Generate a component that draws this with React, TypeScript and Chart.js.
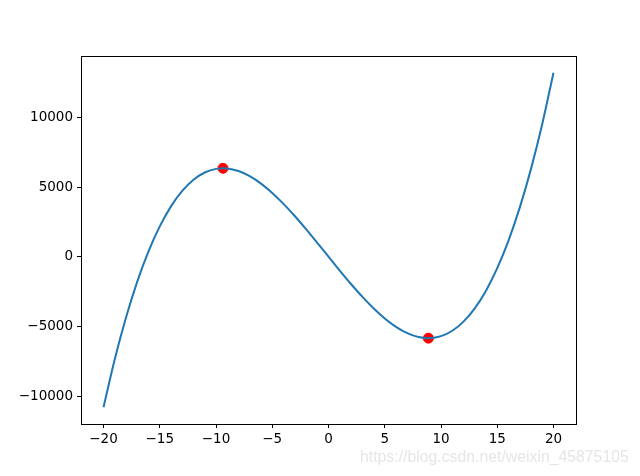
import React, { useEffect, useRef } from "react";
import { Chart, registerables } from "chart.js";

Chart.register(...registerables);

const xValues = [-20, -19, -18, -17, -16, -15, -14, -13, -12, -11, -10, -9, -8, -7, -6, -5, -4, -3, -2, -1, 0, 1, 2, 3, 4, 5, 6, 7, 8, 9, 10, 11, 12, 13, 14, 15, 16, 17, 18, 19, 20];
const yValues = [-10800, -7353, -4356, -1785, 384, 2175, 3612, 4719, 5520, 6039, 6300, 6327, 6144, 5775, 5244, 4575, 3792, 2919, 1980, 999, 0, -993, -1956, -2865, -3696, -4425, -5028, -5481, -5760, -5841, -5700, -5313, -4656, -3705, -2436, -825, 1152, 3519, 6300, 9519, 13200];
const extremaX = [-9.38, 8.88];
const extremaY = [6343, -5842];
const xTicks = [-20, -15, -10, -5, 0, 5, 10, 15, 20];
const yTicks = [-10000, -5000, 0, 5000, 10000];

const fmt = (v: number) => (v < 0 ? "\u2212" + Math.abs(v) : String(v));

export default function App() {
  const ref = useRef<HTMLCanvasElement>(null);
  useEffect(() => {
    const framePlugin = {
      id: "frame",
      afterDraw(chart: any) {
        const { ctx, chartArea } = chart;
        ctx.save();
        ctx.strokeStyle = "#000";
        ctx.lineWidth = 1;
        ctx.strokeRect(
          Math.round(chartArea.left) + 0.5,
          Math.round(chartArea.top) + 0.5,
          Math.round(chartArea.right - chartArea.left),
          Math.round(chartArea.bottom - chartArea.top)
        );
        ctx.restore();
      },
    };
    const tickFont = { family: "'DejaVu Sans'", size: 13.5 };
    const chart = new Chart(ref.current!, {
      type: "line",
      data: {
        datasets: [
          {
            type: "line",
            data: xValues.map((x, i) => ({ x, y: yValues[i] })),
            borderColor: "#1f77b4",
            borderWidth: 2,
            pointRadius: 0,
            tension: 0.3,
            fill: false,
            order: 0,
          },
          {
            type: "scatter",
            data: extremaX.map((x, i) => ({ x, y: extremaY[i] })),
            backgroundColor: "#ff0000",
            borderColor: "#ff0000",
            pointRadius: 5,
            order: 1,
          } as any,
        ],
      },
      options: {
        animation: false,
        responsive: false,
        maintainAspectRatio: false,
        layout: { padding: { left: 0, right: 64, top: 56, bottom: 0 } },
        plugins: { legend: { display: false }, tooltip: { enabled: false } },
        scales: {
          x: {
            type: "linear",
            min: -22,
            max: 22,
            afterBuildTicks: (s: any) => {
              s.ticks = xTicks.map((v) => ({ value: v }));
            },
            afterFit: (s: any) => {
              s.height = 52;
            },
            grid: { drawOnChartArea: false, drawTicks: true, tickLength: 4, tickColor: "#000", color: "#000" },
            border: { display: false },
            ticks: { color: "#000", font: tickFont, padding: 3, maxRotation: 0, callback: (v: any) => fmt(Number(v)) },
          },
          y: {
            type: "linear",
            min: -12000,
            max: 14397,
            afterBuildTicks: (s: any) => {
              s.ticks = yTicks.map((v) => ({ value: v }));
            },
            afterFit: (s: any) => {
              s.width = 81;
            },
            grid: { drawOnChartArea: false, drawTicks: true, tickLength: 4, tickColor: "#000", color: "#000" },
            border: { display: false },
            ticks: { color: "#000", font: tickFont, padding: 4, callback: (v: any) => fmt(Number(v)) },
          },
        },
      },
      plugins: [framePlugin],
    } as any);
    return () => chart.destroy();
  }, []);
  return (
    <div style={{ position: "absolute", left: 0, top: 0, width: 640, height: 476, background: "#fff" }}>
      <canvas ref={ref} width={640} height={476} style={{ width: 640, height: 476, display: "block" }} />
      <div
        style={{
          position: "absolute",
          left: 360,
          top: 448,
          fontFamily: "'Liberation Sans', Arial, sans-serif",
          fontSize: 15.8,
          color: "#e6e6e6",
          whiteSpace: "nowrap",
        }}
      >
        https://blog.csdn.net/weixin_45875105
      </div>
    </div>
  );
}
